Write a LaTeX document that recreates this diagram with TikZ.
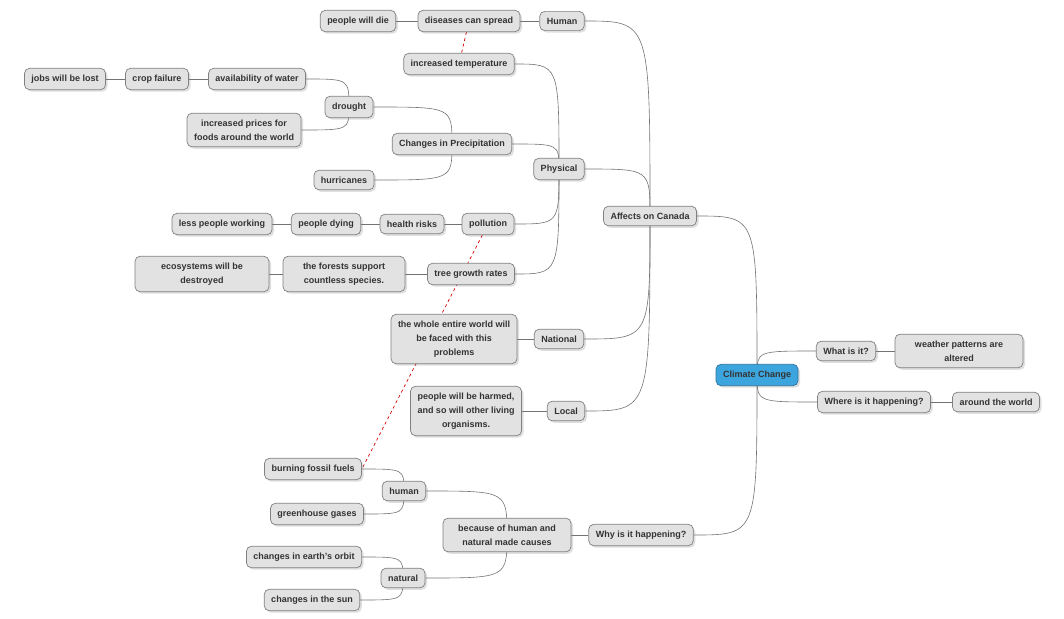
\documentclass[tikz,border=0pt]{standalone}
\usepackage{fontspec}
\setmainfont{Liberation Sans}
\usetikzlibrary{shadows,backgrounds}
\definecolor{nfill}{HTML}{E2E2E2}
\definecolor{nborder}{HTML}{808080}
\definecolor{blue1}{HTML}{3DA5DD}
\definecolor{txt}{HTML}{333333}
\tikzset{
  box/.style={draw=nborder,fill=nfill,rounded corners=5pt,font=\fontsize{9}{14}\selectfont\bfseries,text=txt,
    inner xsep=7pt,inner ysep=6.5pt,align=center,line width=0.7pt,
    drop shadow={opacity=0.25,shadow xshift=2pt,shadow yshift=-2pt}},
  root/.style={box,fill=blue1,draw=blue1!70!black},
  link/.style={draw=black!55,line width=0.6pt},
  rel/.style={draw=red!85!black,dashed,line width=0.7pt}
}
\newcommand{\brl}[2]{\draw[link] (#1.center) .. controls (#1.center |- #2.east) and (#1.center |- #2.east) .. (#2.east);}
\newcommand{\brr}[2]{\draw[link] (#1.center) .. controls (#1.center |- #2.west) and (#1.center |- #2.west) .. (#2.west);}
\begin{document}
\begin{tikzpicture}[x=1pt,y=-1pt]
\useasboundingbox (0,0) rectangle (1064,618);
\node[box] (pdie) at (358,21) {people will die};
\node[box] (dis) at (469,21) {diseases can spread};
\node[box] (human) at (562,21) {Human};
\node[box] (temp) at (459,64) {increased temperature};
\node[box] (jobs) at (65,79) {jobs will be lost};
\node[box] (crop) at (157,79) {crop failure};
\node[box] (water) at (257,79) {availability of water};
\node[box] (drought) at (349,107) {drought};
\node[box] (prices) at (244,130) {increased prices for\\foods around the world};
\node[box] (precip) at (452,144) {Changes in Precipitation};
\node[box] (phys) at (559,169) {Physical};
\node[box] (hurr) at (344,180) {hurricanes};
\node[box] (aff) at (650,216) {Affects on Canada};
\node[box] (less) at (222,224) {less people working};
\node[box] (pdying) at (326,224) {people dying};
\node[box] (health) at (412,224) {health risks};
\node[box] (poll) at (488,224) {pollution};
\node[box,minimum width=134pt] (eco) at (202,274) {ecosystems will be\\destroyed};
\node[box,minimum width=122pt] (forest) at (344,274) {the forests support\\countless species.};
\node[box] (tree) at (471,274) {tree growth rates};
\node[box] (world) at (454,339) {the whole entire world will\\be faced with this\\problems};
\node[box] (nat) at (559,339) {National};
\node[box] (harm) at (466,411) {people will be harmed,\\and so will other living\\organisms.};
\node[box] (local) at (566,411) {Local};
\node[root] (cc) at (757,375) {Climate Change};
\node[box] (what) at (846,351) {What is it?};
\node[box,minimum width=128pt] (weather) at (959,351) {weather patterns are\\altered};
\node[box] (where) at (874,402) {Where is it happening?};
\node[box] (around) at (996,402) {around the world};
\node[box] (burn) at (313,469) {burning fossil fuels};
\node[box] (hum) at (404,491) {human};
\node[box] (green) at (317,514) {greenhouse gases};
\node[box,minimum width=128pt] (because) at (507,535) {because of human and\\natural made causes};
\node[box] (why) at (641,535) {Why is it happening?};
\node[box] (orbit) at (304,557) {changes in earth's orbit};
\node[box] (natural) at (403,578) {natural};
\node[box] (sun) at (312,600) {changes in the sun};
\begin{pgfonlayer}{background}
\draw[link] (pdie) -- (dis); \draw[link] (dis) -- (human);
\draw[link] (jobs) -- (crop); \draw[link] (crop) -- (water);
\draw[link] (less) -- (pdying); \draw[link] (pdying) -- (health); \draw[link] (health) -- (poll);
\draw[link] (eco) -- (forest); \draw[link] (forest) -- (tree);
\draw[link] (world) -- (nat); \draw[link] (harm) -- (local);
\draw[link] (what) -- (weather); \draw[link] (where) -- (around);
\draw[link] (because) -- (why);
\brl{aff}{human} \brl{aff}{phys} \brl{aff}{nat} \brl{aff}{local}
\brl{phys}{temp} \brl{phys}{precip} \brl{phys}{poll} \brl{phys}{tree}
\brl{precip}{drought} \brl{precip}{hurr}
\brl{drought}{water} \brl{drought}{prices}
\brl{cc}{aff} \brl{cc}{why}
\brr{cc}{what} \brr{cc}{where}
\brl{because}{hum} \brl{because}{natural}
\brl{hum}{burn} \brl{hum}{green}
\brl{natural}{orbit} \brl{natural}{sun}
\draw[rel] (dis) -- (temp);
\draw[rel] (poll) -- (burn.east);
\end{pgfonlayer}
\end{tikzpicture}
\end{document}
